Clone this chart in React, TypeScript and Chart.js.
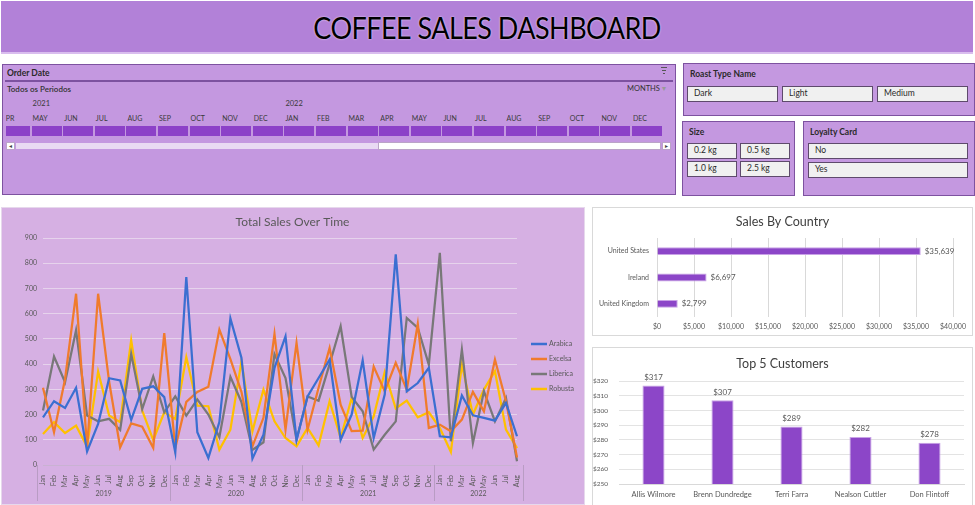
import React, { useEffect, useRef } from 'react';
import { Chart, registerables } from 'chart.js';

Chart.register(...registerables);

const FONT = 'Lato, "Open Sans", sans-serif';

// ---- Total sales over time (monthly, Jan 2019 – Aug 2022) ----
const monthNames = ['Jan', 'Feb', 'Mar', 'Apr', 'May', 'Jun', 'Jul', 'Aug', 'Sep', 'Oct', 'Nov', 'Dec'];
const yearNames = ['2019', '2020', '2021', '2022'];
const monthsPerYear = [12, 12, 12, 8];

const arabica = [189, 253, 226, 306, 54, 163, 344, 335, 179, 302, 312, 269, 50, 745, 130, 28, 170, 581, 425, 25, 120, 385, 510, 100, 272, 345, 418, 100, 200, 415, 107, 279, 835, 292, 325, 385, 114, 110, 276, 197, 187, 176, 246, 114];
const excelsa = [306, 130, 340, 679, 70, 679, 330, 70, 165, 152, 68, 523, 68, 250, 290, 310, 537, 420, 290, 74, 187, 520, 140, 484, 140, 306, 464, 239, 134, 136, 390, 292, 405, 299, 560, 147, 160, 134, 180, 290, 213, 418, 253, 30];
const liberica = [216, 430, 328, 534, 196, 173, 183, 139, 441, 222, 351, 209, 272, 196, 260, 200, 110, 350, 250, 60, 90, 440, 345, 100, 272, 255, 400, 550, 270, 213, 61, 120, 173, 583, 544, 398, 841, 94, 458, 87, 292, 173, 266, 15];
const robusta = [123, 170, 127, 156, 73, 371, 196, 170, 494, 216, 99, 209, 183, 428, 235, 233, 61, 140, 411, 134, 299, 173, 107, 74, 147, 78, 253, 107, 266, 107, 193, 369, 224, 255, 189, 209, 147, 52, 398, 200, 299, 372, 140, 67];

const seriesNames = ['Arabica', 'Excelsa', 'Liberica', 'Robusta'];
const seriesValues = [arabica, excelsa, liberica, robusta];
const seriesColors = ['#3b6fd1', '#f07b2c', '#787878', '#ffc000'];

// ---- Sales by country ----
const countries = ['United States', 'Ireland', 'United Kingdom'];
const countrySales = [35639, 6697, 2799];

// ---- Top 5 customers ----
const customers = ['Allis Wilmore', 'Brenn Dundredge', 'Terri Farra', 'Nealson Cuttler', 'Don Flintoff'];
const customerSales = [317, 307, 289, 282, 278];

// ---- Slicers ----
const roastTypes = ['Dark', 'Light', 'Medium'];
const sizes = ['0.2 kg', '0.5 kg', '1.0 kg', '2.5 kg'];
const loyaltyOptions = ['No', 'Yes'];
const timelineMonths = ['APR', 'MAY', 'JUN', 'JUL', 'AUG', 'SEP', 'OCT', 'NOV', 'DEC', 'JAN', 'FEB', 'MAR', 'APR', 'MAY', 'JUN', 'JUL', 'AUG', 'SEP', 'OCT', 'NOV', 'DEC'];
const timelineYears: [number, string][] = [[1, '2021'], [9, '2022']];

const periodLabels: string[] = [];
monthsPerYear.forEach((count) => {
  for (let m = 0; m < count; m++) periodLabels.push(monthNames[m]);
});

const money = (v: number) => '$' + Number(v).toLocaleString('en-US');

// Chart title centred on the whole canvas (not on the padded layout box)
const centerTitlePlugin = {
  id: 'centerTitle',
  afterDraw(chart: any, _args: any, opts: any) {
    const { ctx, width } = chart;
    ctx.save();
    ctx.fillStyle = opts.color || '#404040';
    ctx.font = `${opts.size || 12}px ${FONT}`;
    ctx.textAlign = 'center';
    ctx.textBaseline = 'middle';
    ctx.fillText(opts.text, width / 2, opts.y);
    ctx.restore();
  },
};

// Year group captions and dividers under the month axis
const yearGroupsPlugin = {
  id: 'yearGroups',
  afterDraw(chart: any) {
    const { ctx, chartArea, scales } = chart;
    const x = scales.x;
    const half = (x.getPixelForValue(1) - x.getPixelForValue(0)) / 2;
    ctx.save();
    ctx.strokeStyle = '#b99cc4';
    ctx.lineWidth = 1;
    ctx.fillStyle = '#595959';
    ctx.font = `7px ${FONT}`;
    ctx.textAlign = 'center';
    ctx.textBaseline = 'middle';
    let start = 0;
    monthsPerYear.forEach((count, gi) => {
      const x0 = x.getPixelForValue(start) - half;
      const x1 = x.getPixelForValue(start + count - 1) + half;
      ctx.beginPath();
      ctx.moveTo(Math.round(x0) + 0.5, chartArea.bottom);
      ctx.lineTo(Math.round(x0) + 0.5, chartArea.bottom + 36);
      if (gi === monthsPerYear.length - 1) {
        ctx.moveTo(Math.round(x1) + 0.5, chartArea.bottom);
        ctx.lineTo(Math.round(x1) + 0.5, chartArea.bottom + 36);
      }
      ctx.stroke();
      ctx.fillText(yearNames[gi], (x0 + x1) / 2, chartArea.bottom + 29);
      start += count;
    });
    ctx.restore();
  },
};

// Line legend to the right of the plot
const lineLegendPlugin = {
  id: 'lineLegend',
  afterDraw(chart: any) {
    const { ctx, chartArea } = chart;
    ctx.save();
    ctx.font = `7px ${FONT}`;
    ctx.textBaseline = 'middle';
    ctx.textAlign = 'left';
    chart.data.datasets.forEach((ds: any, i: number) => {
      const y = chartArea.top + 106 + i * 15;
      ctx.strokeStyle = ds.borderColor;
      ctx.lineWidth = 2.5;
      ctx.beginPath();
      ctx.moveTo(chartArea.right + 14, y);
      ctx.lineTo(chartArea.right + 30, y);
      ctx.stroke();
      ctx.fillStyle = '#595959';
      ctx.fillText(ds.label, chartArea.right + 32, y);
    });
    ctx.restore();
  },
};

// Value captions next to / above bars
const barValuePlugin = {
  id: 'barValues',
  afterDatasetsDraw(chart: any) {
    const { ctx } = chart;
    const horizontal = chart.options.indexAxis === 'y';
    const meta = chart.getDatasetMeta(0);
    const values = chart.data.datasets[0].data;
    ctx.save();
    ctx.fillStyle = '#595959';
    ctx.font = `8px ${FONT}`;
    meta.data.forEach((el: any, i: number) => {
      const text = money(values[i]);
      if (horizontal) {
        ctx.textAlign = 'left';
        ctx.textBaseline = 'middle';
        ctx.fillText(text, el.x + 4, el.y);
      } else {
        ctx.textAlign = 'center';
        ctx.textBaseline = 'bottom';
        ctx.fillText(text, el.x, el.y - 4);
      }
    });
    ctx.restore();
  },
};

function ChartCanvas({ left, top, width, height, make }: { left: number; top: number; width: number; height: number; make: () => any }) {
  const ref = useRef<HTMLCanvasElement>(null);
  useEffect(() => {
    const chart = new Chart(ref.current as HTMLCanvasElement, make());
    return () => chart.destroy();
  }, []);
  return (
    <canvas
      ref={ref}
      width={width}
      height={height}
      style={{ position: 'absolute', left, top, width, height, display: 'block' }}
    />
  );
}

const lineConfig = () => ({
  type: 'line',
  data: {
    labels: periodLabels,
    datasets: seriesNames.map((name, i) => ({
      label: name,
      data: seriesValues[i],
      borderColor: seriesColors[i],
      backgroundColor: seriesColors[i],
      borderWidth: 2.25,
      pointRadius: 0,
      tension: 0,
    })),
  },
  options: {
    responsive: false,
    animation: false,
    layout: { padding: { left: 0, right: 67, top: 30, bottom: 0 } },
    plugins: {
      legend: { display: false },
      tooltip: { enabled: false },
      title: { display: false },
      centerTitle: { text: 'Total Sales Over Time', color: '#595959', size: 12, y: 14 },
    },
    scales: {
      x: {
        grid: { display: false },
        border: { color: '#c9b2d2' },
        ticks: {
          autoSkip: false,
          minRotation: 90,
          maxRotation: 90,
          padding: 2,
          color: '#595959',
          font: { family: FONT, size: 7 },
        },
        afterFit(s: any) { s.height = 40; },
      },
      y: {
        min: 0,
        max: 900,
        ticks: { stepSize: 100, padding: 6, color: '#595959', font: { family: FONT, size: 7 } },
        grid: { color: '#e6d3ec', drawTicks: false },
        border: { display: false },
        afterFit(s: any) { s.width = 42; },
      },
    },
  },
  plugins: [centerTitlePlugin, yearGroupsPlugin, lineLegendPlugin],
});

const countryConfig = () => ({
  type: 'bar',
  data: {
    labels: countries,
    datasets: [{
      data: countrySales,
      backgroundColor: '#8c46c8',
      borderColor: '#c8a2e6',
      borderWidth: 1,
      barPercentage: 0.3,
      categoryPercentage: 1,
    }],
  },
  options: {
    indexAxis: 'y',
    responsive: false,
    animation: false,
    layout: { padding: { left: 0, right: 20, top: 31, bottom: 0 } },
    plugins: {
      legend: { display: false },
      tooltip: { enabled: false },
      title: { display: false },
      centerTitle: { text: 'Sales By Country', color: '#404040', size: 12.5, y: 15 },
    },
    scales: {
      x: {
        min: 0,
        max: 40000,
        ticks: { stepSize: 5000, padding: 6, callback: (v: any) => money(v), color: '#595959', font: { family: FONT, size: 7 } },
        grid: { color: '#d9d9d9', drawTicks: false },
        border: { display: false },
        afterFit(s: any) { s.height = 18; },
      },
      y: {
        ticks: { padding: 8, color: '#595959', font: { family: FONT, size: 7 } },
        grid: { display: false, drawTicks: false },
        border: { display: false },
        afterFit(s: any) { s.width = 65; },
      },
    },
  },
  plugins: [centerTitlePlugin, barValuePlugin],
});

const customerConfig = () => ({
  type: 'bar',
  data: {
    labels: customers,
    datasets: [{
      data: customerSales,
      backgroundColor: '#8c46c8',
      borderColor: '#c8a2e6',
      borderWidth: 1,
      barPercentage: 0.32,
      categoryPercentage: 1,
    }],
  },
  options: {
    responsive: false,
    animation: false,
    layout: { padding: { left: 0, right: 9, top: 34, bottom: 0 } },
    plugins: {
      legend: { display: false },
      tooltip: { enabled: false },
      title: { display: false },
      centerTitle: { text: 'Top 5 Customers', color: '#404040', size: 12.5, y: 17 },
    },
    scales: {
      x: {
        ticks: { padding: 6, color: '#595959', font: { family: FONT, size: 7.5 } },
        grid: { display: false, drawTicks: false },
        border: { color: '#d9d9d9' },
        afterFit(s: any) { s.height = 21; },
      },
      y: {
        min: 250,
        max: 320,
        ticks: { stepSize: 10, padding: 11, callback: (v: any) => money(v), color: '#595959', font: { family: FONT, size: 6.5 } },
        grid: { color: '#e3e3e3', drawTicks: false },
        border: { display: false },
        afterFit(s: any) { s.width = 27; },
      },
    },
  },
  plugins: [centerTitlePlugin, barValuePlugin],
});

const SLICER_BG = '#c498e0';
const SLICER_BORDER = '#7d52a0';

function Panel({ x, y, w, h, bg, border, children }: any) {
  return (
    <div style={{ position: 'absolute', left: x, top: y, width: w, height: h, boxSizing: 'border-box', background: bg, border, overflow: 'hidden' }}>
      {children}
    </div>
  );
}

function Btn({ x, y, w, h, label }: any) {
  return (
    <div style={{
      position: 'absolute', left: x, top: y, width: w, height: h, boxSizing: 'border-box',
      background: '#f0f0f0', border: '1.5px solid #5e4a6c', fontSize: 8.5, lineHeight: `${h - 3}px`,
      paddingLeft: 6, color: '#2a2a2a', whiteSpace: 'nowrap',
    }}>{label}</div>
  );
}

const header = { position: 'absolute' as const, fontSize: 8.5, fontWeight: 700, color: '#2a2a2a' };

export default function App() {
  const tilePitch = 31.6;
  const tileStart = -5;
  return (
    <div style={{ position: 'fixed', left: 0, top: 0, width: 975, height: 505, background: '#ffffff', overflow: 'hidden', fontFamily: FONT }}>
      {/* Title bar */}
      <div style={{
        position: 'absolute', left: 1, top: 1, width: 972, height: 51, background: '#b281d8',
        borderBottom: '2px solid #d9bdee', display: 'flex', alignItems: 'center', justifyContent: 'center',
      }}>
        <span style={{ fontSize: 30, color: '#000', letterSpacing: -0.6, transform: 'scaleX(0.9)', display: 'inline-block', textShadow: '0 0 2px #f3e6ff' }}>
          COFFEE SALES DASHBOARD
        </span>
      </div>

      {/* Order Date timeline */}
      <Panel x={2} y={64} w={674} h={131} bg={SLICER_BG} border={`1.5px solid ${SLICER_BORDER}`}>
        <div style={{ ...header, left: 4, top: 3 }}>Order Date</div>
        <div style={{ position: 'absolute', left: 2, top: 15, width: 668, height: 1.5, background: SLICER_BORDER }} />
        <div style={{ position: 'absolute', right: 8, top: 2, width: 6, height: 8 }}>
          <div style={{ height: 1, background: '#555', marginBottom: 2 }} />
          <div style={{ height: 1, width: 4, marginLeft: 1, background: '#555', marginBottom: 2 }} />
          <div style={{ height: 1, width: 2, marginLeft: 2, background: '#555' }} />
        </div>
        <div style={{ position: 'absolute', left: 4, top: 19, fontSize: 8, fontWeight: 600, color: '#333' }}>Todos os Periodos</div>
        <div style={{ position: 'absolute', left: 624, top: 19, fontSize: 7.5, color: '#333' }}>MONTHS <span style={{ color: '#999' }}>▾</span></div>
        <div style={{ position: 'absolute', left: 3, top: 30, width: 662, height: 45, overflow: 'hidden' }}>
          {timelineYears.map(([idx, yr]) => (
            <div key={yr} style={{ position: 'absolute', left: tileStart + idx * tilePitch, top: 4, fontSize: 7.5, color: '#3a3a3a' }}>{yr}</div>
          ))}
          {timelineMonths.map((m, i) => (
            <React.Fragment key={i}>
              <div style={{ position: 'absolute', left: tileStart + i * tilePitch, top: 19, fontSize: 7, color: '#3a3a3a' }}>{m}</div>
              <div style={{ position: 'absolute', left: tileStart + i * tilePitch - 1, top: 31, width: 30, height: 10, background: '#8c41c8' }} />
            </React.Fragment>
          ))}
        </div>
        <div style={{ position: 'absolute', left: 3, top: 77, width: 9, height: 8, background: '#fff', border: '1px solid #bba4c8', boxSizing: 'border-box', fontSize: 6, lineHeight: '6px', textAlign: 'center', color: '#444' }}>◂</div>
        <div style={{ position: 'absolute', left: 13, top: 78, width: 362, height: 6, background: '#e9daf3' }} />
        <div style={{ position: 'absolute', left: 375, top: 77, width: 283, height: 8, background: '#ffffff', border: '1px solid #bba4c8', boxSizing: 'border-box' }} />
        <div style={{ position: 'absolute', left: 659, top: 77, width: 9, height: 8, background: '#fff', border: '1px solid #bba4c8', boxSizing: 'border-box', fontSize: 6, lineHeight: '6px', textAlign: 'center', color: '#444' }}>▸</div>
      </Panel>

      {/* Roast type slicer */}
      <Panel x={683} y={63} w={292} h={53} bg={SLICER_BG} border={`1.5px solid ${SLICER_BORDER}`}>
        <div style={{ ...header, left: 6, top: 5 }}>Roast Type Name</div>
      </Panel>
      {roastTypes.map((r, i) => <Btn key={r} x={687 + i * 95} y={86} w={91} h={16} label={r} />)}

      {/* Size slicer */}
      <Panel x={682} y={121} w={113} h={75} bg={SLICER_BG} border={`1.5px solid ${SLICER_BORDER}`}>
        <div style={{ ...header, left: 6, top: 5 }}>Size</div>
      </Panel>
      {sizes.map((s, i) => <Btn key={s} x={687 + (i % 2) * 53} y={143 + Math.floor(i / 2) * 18} w={50} h={16} label={s} />)}

      {/* Loyalty card slicer */}
      <Panel x={803} y={121} w={172} h={75} bg={SLICER_BG} border={`1.5px solid ${SLICER_BORDER}`}>
        <div style={{ ...header, left: 6, top: 5 }}>Loyalty Card</div>
      </Panel>
      {loyaltyOptions.map((l, i) => <Btn key={l} x={808} y={143 + i * 19} w={160} h={16} label={l} />)}

      {/* Line chart */}
      <Panel x={1} y={207} w={584} h={298} bg="#d6b0e3" border="1px solid #e6d8ec" />
      <ChartCanvas left={1} top={208} width={583} height={297} make={lineConfig} />

      {/* Sales by country */}
      <Panel x={592} y={207} w={381} h={129} bg="#ffffff" border="1px solid #d9d9d9" />
      <ChartCanvas left={592} top={207} width={381} height={128} make={countryConfig} />

      {/* Top customers */}
      <Panel x={592} y={347} w={381} h={160} bg="#ffffff" border="1px solid #d9d9d9" />
      <ChartCanvas left={592} top={347} width={381} height={158} make={customerConfig} />
    </div>
  );
}
